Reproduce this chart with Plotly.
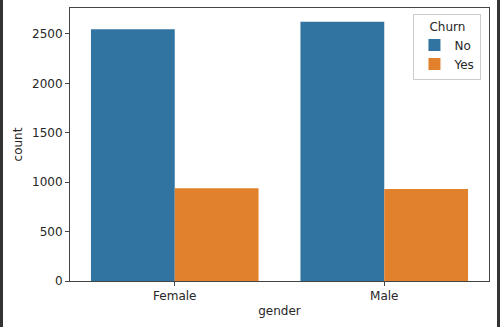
import plotly.graph_objects as go

# Customer counts by gender, split by churn
genders = ["Female", "Male"]
churn_no = [2549, 2625]
churn_yes = [939, 930]
y_ticks = [0, 500, 1000, 1500, 2000, 2500]

W, H = 500, 327
ML, MR, MT, MB = 70, 11, 8, 46
pw = W - ML - MR

fig = go.Figure()
fig.add_trace(go.Bar(x=genders, y=churn_no, name="No", marker=dict(color="#3274a1", line=dict(width=0))))
fig.add_trace(go.Bar(x=genders, y=churn_yes, name="Yes", marker=dict(color="#e1812c", line=dict(width=0))))

axis_font = dict(family="DejaVu Sans", size=12, color="#262626")

fig.update_layout(
    width=W, height=H,
    margin=dict(l=ML, r=MR, t=MT, b=MB),
    paper_bgcolor="white", plot_bgcolor="white",
    barmode="group", bargap=0.2, bargroupgap=0,
    font=axis_font,
    showlegend=True,
    legend=dict(
        title=dict(text="Churn", side="top center", font=axis_font),
        x=0.982, y=0.978, xanchor="right", yanchor="top",
        bordercolor="#cccccc", borderwidth=1, bgcolor="rgba(255,255,255,0.8)",
        font=axis_font, itemwidth=30, tracegroupgap=0,
    ),
    xaxis=dict(
        range=[-0.5, 1.5], showline=True, linecolor="#444", linewidth=1, mirror=True,
        ticks="outside", ticklen=4, tickcolor="#444", showgrid=False,
        title=dict(text="gender", font=axis_font, standoff=4),
        tickfont=axis_font,
    ),
    yaxis=dict(
        range=[0, 2763], showline=True, linecolor="#444", linewidth=1, mirror=True,
        ticks="outside", ticklen=4, tickcolor="#444", showgrid=False, zeroline=False,
        tickvals=y_ticks, ticktext=[str(v) for v in y_ticks],
        title=dict(text="count", font=axis_font, standoff=6),
        tickfont=axis_font,
    ),
    shapes=[
        dict(type="rect", xref="paper", yref="paper",
             x0=(0 - ML) / pw, x1=(3 - ML) / pw, y0=-MB / (H - MT - MB), y1=1 + MT / (H - MT - MB),
             fillcolor="#333333", line=dict(width=0), layer="above"),
        dict(type="rect", xref="paper", yref="paper",
             x0=(497 - ML) / pw, x1=(W - ML) / pw, y0=-MB / (H - MT - MB), y1=1 + MT / (H - MT - MB),
             fillcolor="#333333", line=dict(width=0), layer="above"),
    ],
)

fig.write_html("out.html")
